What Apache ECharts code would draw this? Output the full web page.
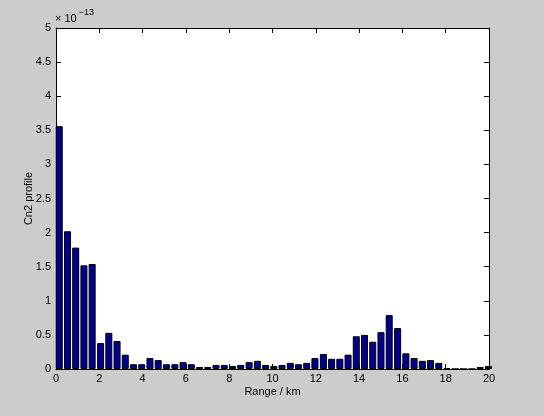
<!DOCTYPE html>
<html>
<head>
<meta charset="utf-8">
<script src="https://cdn.jsdelivr.net/npm/echarts@6/dist/echarts.min.js"></script>
<style>
  html, body { margin: 0; padding: 0; background: #cccccc; }
  #main { width: 544px; height: 416px; }
</style>
</head>
<body>
<div id="main"></div>
<script>
// range of each bin (km)
var rangeKm = [0.15, 0.53, 0.91, 1.29, 1.67, 2.06, 2.44, 2.82, 3.20, 3.58,
  3.96, 4.34, 4.72, 5.10, 5.49, 5.87, 6.25, 6.63, 7.01, 7.39,
  7.77, 8.15, 8.53, 8.92, 9.30, 9.68, 10.06, 10.44, 10.82, 11.20,
  11.58, 11.96, 12.35, 12.73, 13.11, 13.49, 13.87, 14.25, 14.63, 15.01,
  15.39, 15.78, 16.16, 16.54, 16.92, 17.30, 17.68, 18.06, 18.44, 18.82,
  19.21, 19.59, 19.97];
// Cn2 values, in units of 1e-13
var cn2 = [3.56, 2.02, 1.78, 1.52, 1.54, 0.38, 0.53, 0.41, 0.21, 0.07,
  0.07, 0.16, 0.13, 0.07, 0.07, 0.10, 0.07, 0.03, 0.03, 0.06,
  0.06, 0.045, 0.06, 0.10, 0.12, 0.06, 0.045, 0.06, 0.09, 0.07,
  0.09, 0.16, 0.22, 0.15, 0.15, 0.21, 0.48, 0.50, 0.40, 0.54,
  0.79, 0.60, 0.23, 0.16, 0.12, 0.13, 0.09, 0.015, 0, 0,
  0, 0.03, 0.045];
var xTicks = [0, 2, 4, 6, 8, 10, 12, 14, 16, 18, 20];
var yTicks = [0, 0.5, 1, 1.5, 2, 2.5, 3, 3.5, 4, 4.5, 5];

var pairs = [];
for (var i = 0; i < rangeKm.length; i++) {
  pairs.push([rangeKm[i], cn2[i]]);
}

var font = 'Liberation Sans, Arial, sans-serif';
var lineStyle = { color: '#000', width: 1 };

var myChart = echarts.init(document.getElementById('main'));
var option = {
  backgroundColor: '#cccccc',
  animation: false,
  textStyle: { fontFamily: font },
  grid: {
    left: 56, top: 28, right: 55, bottom: 47,
    show: true, backgroundColor: '#ffffff', borderWidth: 0
  },
  graphic: [{
    type: 'text',
    left: 55, top: 8,
    style: {
      text: '{a|\u00d7 10}{b|\u221213}',
      rich: {
        a: { fontSize: 11, fontFamily: font, fill: '#000', padding: [6, 0, 0, 0] },
        b: { fontSize: 9, fontFamily: font, fill: '#000', padding: [0, 0, 6, 2] }
      }
    }
  }],
  xAxis: [{
    type: 'value',
    min: xTicks[0], max: xTicks[xTicks.length - 1], interval: 2,
    name: 'Range / km',
    nameLocation: 'middle', nameGap: 17, nameMoveOverlap: false,
    nameTextStyle: { color: '#000', fontSize: 11, fontFamily: font },
    axisLine: { show: true, onZero: false, lineStyle: lineStyle },
    axisTick: { show: true, inside: true, length: 5, lineStyle: lineStyle },
    axisLabel: { color: '#000', fontSize: 11, margin: 4, fontFamily: font },
    splitLine: { show: false }
  }, {
    type: 'value', position: 'top',
    min: xTicks[0], max: xTicks[xTicks.length - 1], interval: 2,
    axisLine: { show: true, onZero: false, lineStyle: lineStyle },
    axisTick: { show: true, inside: true, length: 5, lineStyle: lineStyle },
    axisLabel: { show: false },
    splitLine: { show: false }
  }],
  yAxis: [{
    type: 'value',
    min: yTicks[0], max: yTicks[yTicks.length - 1], interval: 0.5,
    name: 'Cn2 profile',
    nameLocation: 'middle', nameGap: 22, nameRotate: 90, nameMoveOverlap: false,
    nameTextStyle: { color: '#000', fontSize: 11, fontFamily: font },
    axisLine: { show: true, onZero: false, lineStyle: lineStyle },
    axisTick: { show: true, inside: true, length: 5, lineStyle: lineStyle },
    axisLabel: { color: '#000', fontSize: 11, margin: 5, fontFamily: font },
    splitLine: { show: false }
  }, {
    type: 'value', position: 'right',
    min: yTicks[0], max: yTicks[yTicks.length - 1], interval: 0.5,
    axisLine: { show: true, onZero: false, lineStyle: lineStyle },
    axisTick: { show: true, inside: true, length: 5, lineStyle: lineStyle },
    axisLabel: { show: false },
    splitLine: { show: false }
  }],
  series: [{
    type: 'bar',
    xAxisIndex: 0, yAxisIndex: 0,
    data: pairs,
    barWidth: 7,
    itemStyle: { color: '#00008f', borderColor: '#000', borderWidth: 1 },
    clip: true
  }]
};
myChart.setOption(option);
</script>
</body>
</html>
